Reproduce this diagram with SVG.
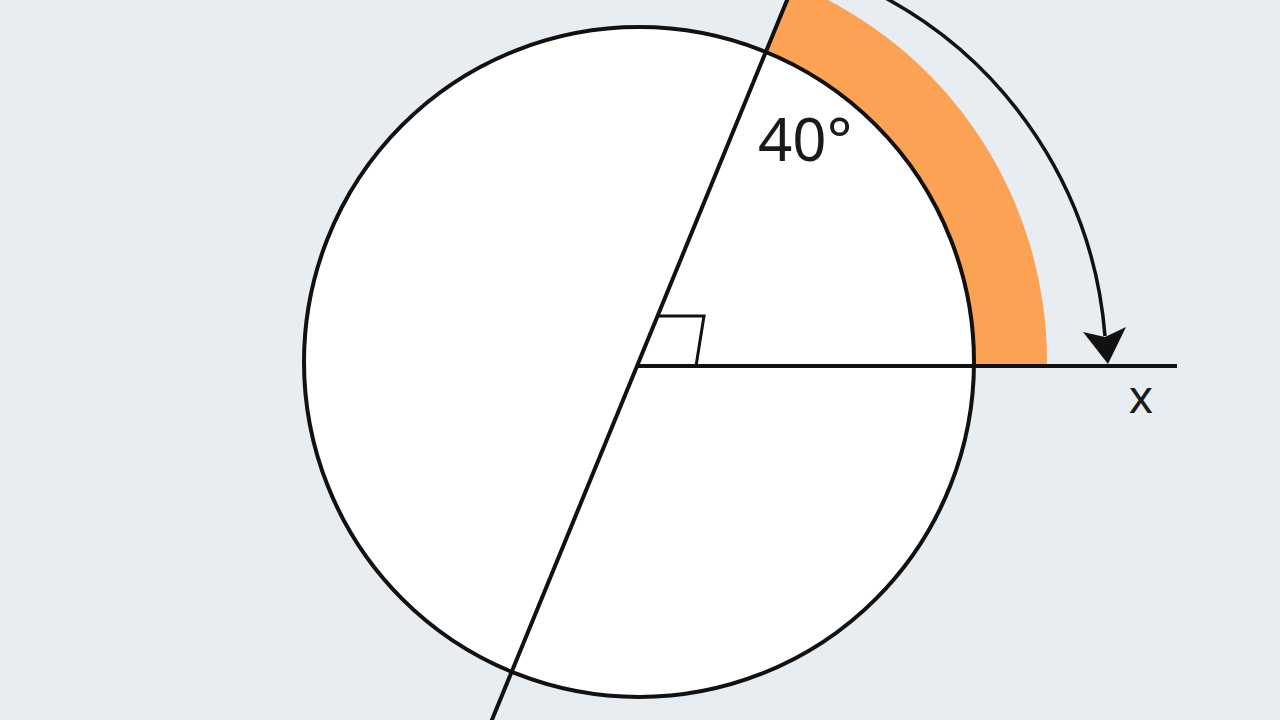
<svg xmlns="http://www.w3.org/2000/svg" width="1280" height="720" viewBox="0 0 1280 720">
<style>
.ink{fill:none;stroke:#111;stroke-linecap:butt;stroke-linejoin:miter}
.lbl{font-family:"Noto Sans","Liberation Sans",sans-serif;fill:#1a1a1a}
</style>
<rect x="0" y="0" width="1280" height="720" fill="#E8EDF2"/>
<g id="circle">
<circle cx="639" cy="362" r="335" fill="#FFFFFF" stroke="none"/>
</g>
<g id="band">
<path d="M766,52 L793.6,-16 A408 408 0 0 1 1047,366 L974,366 A335 335 0 0 0 766,52 Z" fill="#FBA254"/>
</g>
<g id="circle-outline">
<circle cx="639" cy="362" r="335" class="ink" stroke-width="4"/>
</g>
<g id="connectors">
<path d="M791.2,-10 L487.8,730" class="ink" stroke-width="4"/>
<path d="M638,366 L1177,366" class="ink" stroke-width="4"/>
<path d="M657.5,316 L704,316 L696,366" class="ink" stroke-width="3"/>
<path d="M880,-5 A423 423 0 0 1 1105,336" class="ink" stroke-width="3.5"/>
<path d="M1108,364 L1083,332 L1105,337 L1126,327 Z" fill="#111"/>
</g>
<g id="labels">
<text x="758" y="161" class="lbl" font-size="60">40°</text>
<text x="1141" y="413" class="lbl" font-size="46" text-anchor="middle">x</text>
</g>
</svg>
